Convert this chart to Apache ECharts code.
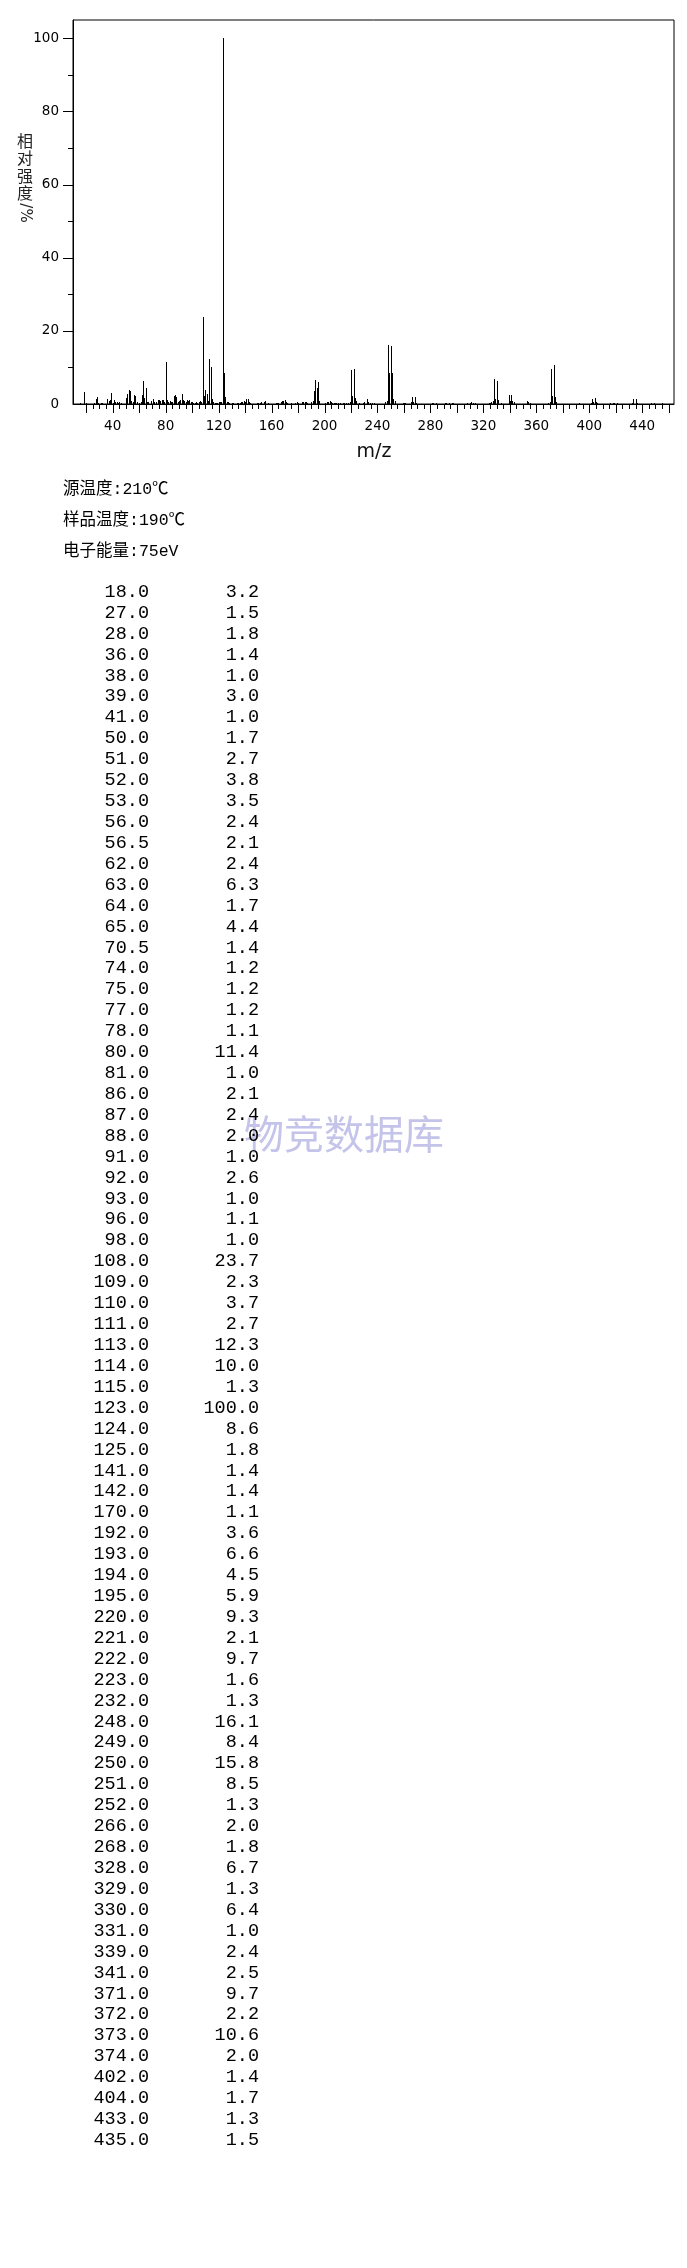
<!DOCTYPE html>
<html>
<head>
<meta charset="utf-8">
<script src="https://cdn.jsdelivr.net/npm/echarts/dist/echarts.min.js"></script>
<style>
html,body{margin:0;padding:0;background:#fff;}
#chart{width:687px;height:2268px;}
</style>
</head>
<body>
<div id="chart"></div>
<script>
// ---- Data ----
const mzValues = [18, 27, 28, 36, 38, 39, 41, 50, 51, 52, 53, 56, 56.5, 62, 63, 64, 65, 70.5, 74, 75, 77, 78, 80, 81, 86, 87, 88, 91, 92, 93, 96, 98, 108, 109, 110, 111, 113, 114, 115, 123, 124, 125, 141, 142, 170, 192, 193, 194, 195, 220, 221, 222, 223, 232, 248, 249, 250, 251, 252, 266, 268, 328, 329, 330, 331, 339, 341, 371, 372, 373, 374, 402, 404, 433, 435];
const intensities = [3.2, 1.5, 1.8, 1.4, 1.0, 3.0, 1.0, 1.7, 2.7, 3.8, 3.5, 2.4, 2.1, 2.4, 6.3, 1.7, 4.4, 1.4, 1.2, 1.2, 1.2, 1.1, 11.4, 1.0, 2.1, 2.4, 2.0, 1.0, 2.6, 1.0, 1.1, 1.0, 23.7, 2.3, 3.7, 2.7, 12.3, 10.0, 1.3, 100.0, 8.6, 1.8, 1.4, 1.4, 1.1, 3.6, 6.6, 4.5, 5.9, 9.3, 2.1, 9.7, 1.6, 1.3, 16.1, 8.4, 15.8, 8.5, 1.3, 2.0, 1.8, 6.7, 1.3, 6.4, 1.0, 2.4, 2.5, 9.7, 2.2, 10.6, 2.0, 1.4, 1.7, 1.3, 1.5];
// small peaks visible in the plot but below the listing threshold (estimated)
const minorMz = [15, 20, 26, 29, 31, 32, 37, 40, 42, 43, 44, 45, 46, 54, 55, 57, 58, 60, 61, 66, 67, 69, 71, 73, 76, 79, 82, 83, 84, 85, 89, 90, 94, 95, 97, 99, 100, 101, 102, 103, 104, 105, 106, 107, 112, 116, 117, 118, 119, 120, 121, 122, 126, 127, 128, 130, 131, 134, 135, 136, 137, 138, 139, 140, 143, 144, 149, 150, 151, 152, 154, 155, 157, 163, 164, 165, 167, 168, 169, 171, 172, 175, 178, 179, 180, 183, 184, 185, 186, 187, 190, 191, 196, 200, 202, 203, 204, 205, 206, 207, 208, 209, 210, 212, 214, 215, 216, 218, 219, 224, 226, 229, 230, 233, 234, 236, 237, 246, 247, 253, 259, 260, 261, 265, 267, 269, 281, 282, 284, 291, 292, 294, 296, 297, 308, 310, 311, 312, 314, 324, 325, 326, 327, 333, 340, 342, 343, 353, 354, 355, 369, 370, 375, 392, 401, 403, 405, 406, 416, 418, 419, 421, 432, 436, 447, 449, 455];
const minorIntensity = [0.4, 0.3, 0.3, 0.4, 0.3, 0.3, 0.7, 0.4, 0.5, 0.6, 0.4, 0.5, 0.4, 0.8, 0.5, 0.9, 0.6, 0.4, 0.5, 0.6, 0.5, 0.7, 0.5, 0.6, 0.8, 0.6, 0.5, 0.8, 0.5, 0.6, 0.6, 0.8, 0.7, 0.6, 0.9, 0.5, 0.5, 0.4, 0.3, 0.5, 0.4, 0.6, 0.7, 0.6, 0.8, 0.5, 0.4, 0.3, 0.4, 0.5, 0.6, 0.5, 0.5, 0.6, 0.4, 0.3, 0.4, 0.3, 0.4, 0.4, 0.5, 0.6, 0.8, 0.5, 0.6, 0.4, 0.4, 0.3, 0.4, 0.5, 0.5, 0.7, 0.4, 0.3, 0.4, 0.4, 0.5, 0.7, 0.8, 0.5, 0.3, 0.4, 0.4, 0.5, 0.3, 0.5, 0.6, 0.5, 0.6, 0.4, 0.5, 0.7, 0.7, 0.3, 0.5, 0.6, 0.7, 0.6, 0.4, 0.4, 0.3, 0.4, 0.4, 0.4, 0.3, 0.4, 0.4, 0.4, 0.5, 0.7, 0.3, 0.4, 0.5, 0.5, 0.4, 0.3, 0.4, 0.5, 0.7, 0.9, 0.3, 0.4, 0.3, 0.5, 0.6, 0.4, 0.3, 0.4, 0.3, 0.3, 0.4, 0.3, 0.4, 0.3, 0.4, 0.4, 0.6, 0.4, 0.3, 0.4, 0.4, 0.5, 0.8, 0.4, 0.8, 0.9, 0.5, 0.8, 0.5, 0.4, 0.3, 0.5, 0.5, 0.3, 0.4, 0.6, 0.5, 0.3, 0.4, 0.4, 0.4, 0.3, 0.4, 0.4, 0.3, 0.3, 0.3];
const xLabelStep = 40;      // labelled m/z ticks
const yLabelStep = 20;      // labelled intensity ticks
const conditionLines = ['源温度:210℃', '样品温度:190℃', '电子能量:75eV'];
const yTitleChars = ['相', '对', '强', '度'];
const yTitleUnit = '/%';
const xTitle = 'm/z';
const watermark = '物竞数据库';

// ---- Layout ----
const X_MIN = 10, X_MAX = 464, Y_MAX = 105;
const GRID = {left: 73, top: 20, width: 601, height: 384};

const peakData = mzValues.map((m, i) => [m, intensities[i]])
  .concat(minorMz.map((m, i) => [m, minorIntensity[i]]));

const xTicks = [];
for (let v = 20; v <= 460; v += 5) xTicks.push([v, 0]);
const yTicks = [];
for (let v = 10; v <= 100; v += 10) yTicks.push([X_MIN, v]);

const graphics = [];
// watermark (below table text)
graphics.push({
  type: 'text', x: 344, y: 1134, z: 1,
  style: {text: watermark, font: '40px "Noto Sans CJK SC"', fill: '#c4c4ea', textAlign: 'center', textVerticalAlign: 'middle'}
});
// y axis title
yTitleChars.forEach((ch, i) => {
  graphics.push({
    type: 'text', x: 25, y: 141 + i * 17.4, z: 10,
    style: {text: ch, font: '16px "Noto Sans CJK SC"', fill: '#222', textAlign: 'center', textVerticalAlign: 'middle'}
  });
});
graphics.push({
  type: 'text', x: 25, y: 213, rotation: -Math.PI / 2, z: 10,
  style: {text: yTitleUnit, font: '15px "DejaVu Sans"', fill: '#222', textAlign: 'center', textVerticalAlign: 'middle'}
});
// x axis title
graphics.push({
  type: 'text', x: 374, y: 452, z: 10,
  style: {text: xTitle, font: '19px "DejaVu Sans"', fill: '#111', textAlign: 'center', textVerticalAlign: 'middle'}
});
// condition lines
conditionLines.forEach((t, i) => {
  graphics.push({
    type: 'text', x: 63, y: [490, 521, 552][i], z: 10,
    style: {text: t, font: '16.5px "Liberation Mono", "Noto Sans CJK SC"', fill: '#000', textAlign: 'left', textVerticalAlign: 'middle'}
  });
});
// table
mzValues.forEach((m, i) => {
  const y = 592 + i * 20.92;
  graphics.push({
    type: 'text', x: 149, y: y, z: 10,
    style: {text: m.toFixed(1), font: '18.5px "Liberation Mono"', fill: '#000', textAlign: 'right', textVerticalAlign: 'middle'}
  });
  graphics.push({
    type: 'text', x: 259, y: y, z: 10,
    style: {text: intensities[i].toFixed(1), font: '18.5px "Liberation Mono"', fill: '#000', textAlign: 'right', textVerticalAlign: 'middle'}
  });
});

const chart = echarts.init(document.getElementById('chart'), null, {renderer: 'canvas'});
chart.setOption({
  animation: false,
  backgroundColor: '#fff',
  grid: {left: GRID.left, top: GRID.top, width: GRID.width, height: GRID.height, show: true, borderColor: '#000', borderWidth: 1, backgroundColor: 'transparent'},
  xAxis: {
    type: 'value', min: X_MIN, max: X_MAX, interval: 10,
    axisLine: {show: true, lineStyle: {color: '#000', width: 1}},
    axisTick: {show: false},
    splitLine: {show: false},
    axisLabel: {
      margin: 15, color: '#000', fontFamily: 'DejaVu Sans', fontSize: 13.5,
      formatter: v => (v % xLabelStep === 0 ? String(v) : '')
    }
  },
  yAxis: {
    type: 'value', min: 0, max: Y_MAX, interval: 10,
    axisLine: {show: true, lineStyle: {color: '#000', width: 1}},
    axisTick: {show: false},
    splitLine: {show: false},
    axisLabel: {
      margin: 14, color: '#000', fontFamily: 'DejaVu Sans', fontSize: 13.5,
      formatter: v => (v % yLabelStep === 0 && v <= 100 ? String(v) : '')
    }
  },
  graphic: graphics,
  series: [
    {
      type: 'custom', name: 'peaks', clip: true, z: 3,
      data: peakData,
      renderItem: (params, api) => {
        const top = api.coord([api.value(0), api.value(1)]);
        const base = api.coord([api.value(0), 0]);
        const x = Math.round(top[0]);
        const y1 = Math.round(top[1]);
        const y2 = Math.round(base[1]);
        return {type: 'rect', shape: {x: x, y: y1, width: 1, height: Math.max(1, y2 - y1)}, style: {fill: '#000'}};
      }
    },
    {
      type: 'custom', name: 'xticks', clip: false, silent: true, z: 4,
      data: xTicks,
      renderItem: (params, api) => {
        const v = api.value(0);
        const p = api.coord([v, 0]);
        const x = Math.round(p[0]) + 0.5;
        const y = Math.round(p[1]);
        const len = v % 20 === 0 ? 9 : 5;
        return {type: 'line', shape: {x1: x, y1: y, x2: x, y2: y + len}, style: {stroke: '#000', lineWidth: 1}};
      }
    },
    {
      type: 'custom', name: 'yticks', clip: false, silent: true, z: 4,
      data: yTicks,
      renderItem: (params, api) => {
        const v = api.value(1);
        const p = api.coord([X_MIN, v]);
        const x = Math.round(p[0]);
        const y = Math.round(p[1]) + 0.5;
        const len = v % 20 === 0 ? 10 : 5;
        return {type: 'line', shape: {x1: x - len, y1: y, x2: x, y2: y}, style: {stroke: '#000', lineWidth: 1}};
      }
    }
  ]
});
</script>
</body>
</html>
